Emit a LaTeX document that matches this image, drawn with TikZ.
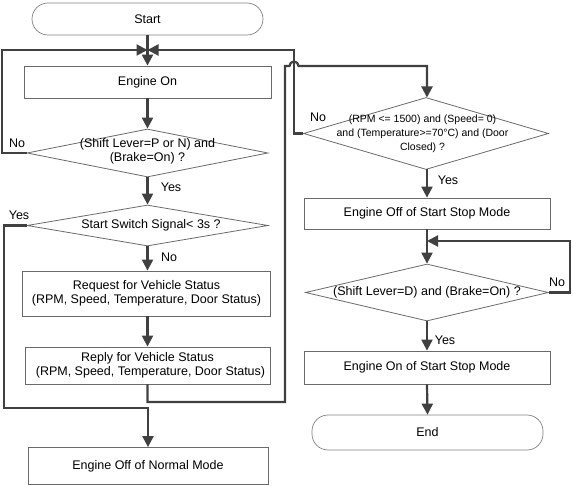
\documentclass[tikz,border=0pt]{standalone}
\usepackage{fontspec}
\setmainfont{Liberation Sans}
\usetikzlibrary{arrows.meta,shapes.geometric}
\definecolor{ln}{HTML}{404040}
\definecolor{bd}{HTML}{6A6A6A}
\begin{document}
\begin{tikzpicture}[x=1pt,y=-1pt,
 every node/.style={font=\fontsize{12.5}{14}\selectfont},
 box/.style={draw=bd, line width=0.8pt, rectangle, inner sep=0pt, align=center},
 term/.style={draw=bd!85, line width=0.7pt, rectangle, rounded corners=16pt, inner sep=0pt},
 dia/.style={draw=bd, line width=0.8pt, diamond, inner sep=0pt},
 txt/.style={align=center, inner sep=0pt},
 flow/.style={draw=ln, line width=2.2pt},
 arr/.style={flow, -{Triangle[length=11pt,width=11pt]}},
 lab/.style={inner sep=0pt}]
\useasboundingbox (0,0) rectangle (573,486);
% left column
\node[term, minimum width=231pt, minimum height=32pt] (start) at (147.5,19) {Start};
\node[box, minimum width=247pt, minimum height=32pt] (engon) at (147.5,82) {Engine On};
\node[dia, minimum width=241pt, minimum height=48pt] (d1) at (147.5,153) {};
\node[txt] (d1t) at (147.5,151.5) {(Shift Lever=P or N) and\\(Brake=On) ?};
\node[dia, minimum width=241pt, minimum height=41pt] (d2) at (147.5,225.5) {};
\node[txt] (d2t) at (151,225) {Start Switch Signal< 3s ?};
\node[box, minimum width=248pt, minimum height=45pt] (req) at (146.5,293.5) {Request for Vehicle Status\\(RPM, Speed, Temperature, Door Status)};
\node[box, minimum width=245pt, minimum height=37pt] (rep) at (147.5,365.5) {Reply for Vehicle Status\\\hspace*{6pt}(RPM, Speed, Temperature, Door Status)};
\node[box, minimum width=240pt, minimum height=37pt] (offn) at (148,466) {Engine Off of Normal Mode};
% right column
\node[dia, minimum width=245pt, minimum height=72pt] (d3) at (426,133.5) {};
\node[txt, font=\fontsize{10.5}{14}\selectfont] (d3t) at (422.5,134) {(RPM <= 1500) and (Speed= 0)\\and (Temperature>=70°C) and (Door\\Closed) ?};
\node[box, minimum width=246pt, minimum height=31pt] (offss) at (427,213.5) {Engine Off of Start Stop Mode};
\node[dia, minimum width=243pt, minimum height=57pt] (d4) at (427,292.5) {};
\node[txt] (d4t) at (427,292.5) {(Shift Lever=D) and (Brake=On) ?};
\node[box, minimum width=246pt, minimum height=33pt] (onss) at (427,367.5) {Engine On of Start Stop Mode};
\node[term, minimum width=231pt, minimum height=35pt] (end) at (427.5,432.5) {End};
% coordinates
\coordinate (m) at (147.5,50);
\coordinate (lc) at (2,50);
\coordinate (rc) at (294,50);
\coordinate (loop4) at (427,241);
% connectors
\draw[flow] (start.south) -- (m);
\draw[arr] (m) -- (engon.north);
\draw[arr] (d1.west) -- (2,153) -- (lc) -- (m);
\draw[arr] (d3.west) -- (294,133.5) -- (rc) -- (m);
\draw[arr] (engon.south) -- (d1.north);
\draw[arr] (d1.south) -- (d2.north);
\draw[arr] (d2.west) -- (4,225.5) -- (4,408) -- (148,408) -- (offn.north);
\draw[arr] (d2.south) -- (req.north -| d2.south);
\draw[arr] (req.south -| rep.south) -- (rep.north);
\draw[arr] (rep.south) -- (147.5,402) -- (285,402) -- (285,66) -- (289.5,66)
  arc[start angle=180, end angle=0, radius=4.5pt] -- (427,66) -- (427,97.5);
\draw[arr] (427,169.5) -- (offss.north);
\draw[flow] (offss.south) -- (loop4);
\draw[arr] (loop4) -- (d4.north);
\draw[arr] (d4.east) -- (570,292.5) -- (570,241) -- (loop4);
\draw[arr] (d4.south) -- (onss.north);
\draw[arr] (onss.south) -- (end.north);
% labels
\node[lab] (l1) at (17,143) {No};
\node[lab] (l2) at (171,187) {Yes};
\node[lab] (l3) at (19,215) {Yes};
\node[lab] (l4) at (169,257) {No};
\node[lab] (l5) at (318,117) {No};
\node[lab] (l6) at (448,180) {Yes};
\node[lab] (l7) at (557,282) {No};
\node[lab] (l8) at (445,340) {Yes};
\end{tikzpicture}
\end{document}
